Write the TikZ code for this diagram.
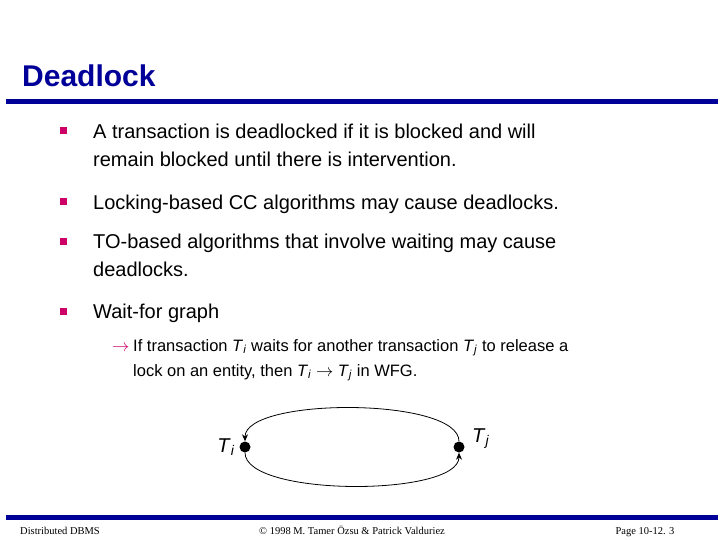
\documentclass[tikz,border=0pt]{standalone}
\usepackage{fontspec}
\setmainfont{Liberation Sans}
\newfontfamily\footfont{Liberation Serif}
\usetikzlibrary{arrows.meta, positioning}
\definecolor{slideblue}{RGB}{0,0,153}
\definecolor{bulletpink}{RGB}{204,0,102}
\newcommand{\tvar}[1]{\textit{T}\textsubscript{\textit{#1}}}

\begin{document}
\begin{tikzpicture}[
    x=1pt, y=-1pt,
    item/.style={anchor=base west, inner sep=0pt, align=left,
      font=\fontsize{20}{28}\selectfont},
    subitem/.style={anchor=base west, inner sep=0pt, align=left,
      font=\fontsize{16.5}{25}\selectfont},
    bullet/.style={fill=bulletpink, minimum size=7pt, inner sep=0pt},
    vertex/.style={circle, fill=black, minimum size=11pt, inner sep=0pt},
    vlabel/.style={font=\fontsize{20}{24}\selectfont},
    arc/.style={-{Stealth[length=7pt,width=6pt]}, thick},
    footer/.style={anchor=base, font=\footfont\fontsize{10.5}{12}\selectfont}
]
\useasboundingbox (0,0) rectangle (720,540);

% --- Title ---
\node[anchor=base west, inner sep=0pt, text=slideblue,
  font=\fontsize{30}{36}\selectfont\bfseries] (title) at (22,87) {Deadlock};
\fill[slideblue] (6,99) rectangle (718,104);

% --- Bullets (multi-line nodes sit on their last baseline) ---
\node[bullet] (b1) at (63,131) {};
\node[item] (t1) at (93,167) {A transaction is deadlocked if it is blocked and will\\remain blocked until there is intervention.};
\node[bullet] (b2) at (63,202) {};
\node[item] (t2) at (93,210) {Locking-based CC algorithms may cause deadlocks.};
\node[bullet] (b3) at (63,241) {};
\node[item] (t3) at (93,276) {TO-based algorithms that involve waiting may cause\\deadlocks.};
\node[bullet] (b4) at (63,311) {};
\node[item] (t4) at (93,318) {Wait-for graph};

\node[subitem, text=bulletpink] (s1) at (112,351) {$\rightarrow$};
\node[subitem] (t5) at (133,376) {If transaction \tvar{i} waits for another transaction \tvar{j} to release a\\lock on an entity, then \tvar{i} $\rightarrow$ \tvar{j} in WFG.};

% --- Wait-for graph ---
\node[vertex] (ti) at (245,447) {};
\node[vertex] (tj) at (459,447) {};
\node[vlabel, left=1pt of ti] (tilab) {\tvar{i}};
\node[vlabel, right=4pt of tj, yshift=8pt] (tjlab) {\tvar{j}};
\draw[arc] (tj) .. controls +(0,-50) and +(0,-50) .. (ti);
\draw[arc] (ti) .. controls +(0,50) and +(0,50) .. (tj);

% --- Footer ---
\fill[slideblue] (6,515) rectangle (718,520);
\node[footer] (f1) at (60,534) {Distributed DBMS};
\node[footer] (f2) at (352,534) {\textcopyright{} 1998 M. Tamer Özsu \& Patrick Valduriez};
\node[footer] (f3) at (645,534) {Page 10-12. 3};
\end{tikzpicture}
\end{document}
